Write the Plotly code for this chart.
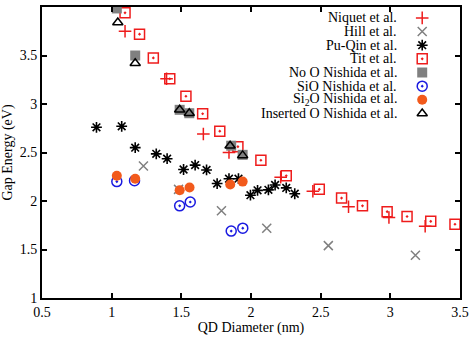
import plotly.graph_objects as go

# Quantum-dot gap energy vs. diameter, several literature data sets
niquet_d = [1.096, 1.394, 1.658, 1.842, 2.213, 2.444, 2.70, 2.99, 3.25]
niquet_e = [3.75, 3.26, 2.69, 2.50, 2.245, 2.10, 1.94, 1.83, 1.74]

hill_d = [1.228, 1.48, 1.788, 2.113, 2.555, 3.18]
hill_e = [2.36, 2.12, 1.90, 1.72, 1.54, 1.44]

puqin_d = [0.891, 1.072, 1.169, 1.32, 1.398, 1.516, 1.599, 1.681, 1.757, 1.842,
           1.91, 1.996, 2.047, 2.125, 2.173, 2.253, 2.314]
puqin_e = [2.76, 2.77, 2.55, 2.486, 2.436, 2.325, 2.37, 2.32, 2.18, 2.23,
           2.23, 2.06, 2.11, 2.115, 2.165, 2.135, 2.075]

tit_d = [1.096, 1.20, 1.299, 1.417, 1.533, 1.653, 1.776, 1.906, 2.071, 2.253,
         2.49, 2.65, 2.80, 2.977, 3.12, 3.29, 3.464]
tit_e = [3.94, 3.72, 3.475, 3.26, 3.08, 2.90, 2.72, 2.56, 2.42, 2.26,
         2.12, 2.03, 1.95, 1.89, 1.84, 1.79, 1.76]

noo_d = [1.037, 1.169, 1.488, 1.557, 1.858, 1.94]
noo_e = [3.985, 3.50, 2.94, 2.905, 2.57, 2.476]

sio_d = [1.037, 1.164, 1.488, 1.564, 1.858, 1.941]
sio_e = [2.20, 2.21, 1.95, 1.99, 1.69, 1.72]

si2o_d = [1.037, 1.169, 1.488, 1.559, 1.851, 1.94]
si2o_e = [2.26, 2.23, 2.11, 2.14, 2.17, 2.20]

ins_d = [1.044, 1.169, 1.488, 1.557, 1.85, 1.94]
ins_e = [3.84, 3.42, 2.94, 2.905, 2.57, 2.47]

x_ticks = [0.5, 1, 1.5, 2, 2.5, 3, 3.5]
x_tick_text = ["0.5", "1", "1.5", "2", "2.5", "3", "3.5"]
y_ticks = [1, 1.5, 2, 2.5, 3, 3.5, 4]
y_tick_text = ["1", "1.5", "2", "2.5", "3", "3.5", "4"]

RED = "#ee1c1c"
GRAY = "#808080"
BLUE = "#1a1ae0"
ORANGE = "#f25a1c"
FONT = "Liberation Serif, Times New Roman, Times, serif"

series = [
    ("Niquet et al.", niquet_d, niquet_e,
     dict(symbol="cross-thin", size=9, line=dict(color=RED, width=1.5), color=RED)),
    ("Hill et al.", hill_d, hill_e,
     dict(symbol="x-thin", size=9, line=dict(color=GRAY, width=1.5), color=GRAY)),
    ("Pu-Qin et al.", puqin_d, puqin_e,
     dict(symbol="asterisk", size=9, line=dict(color="black", width=1.6), color="black")),
    ("Tit et al.", tit_d, tit_e,
     dict(symbol="square-open-dot", size=10, line=dict(color=RED, width=1.5), color=RED)),
    ("No O Nishida et al.", noo_d, noo_e,
     dict(symbol="square", size=10, color=GRAY, line=dict(width=0))),
    ("SiO Nishida et al.", sio_d, sio_e,
     dict(symbol="circle-open-dot", size=10, line=dict(color=BLUE, width=1.5), color=BLUE)),
    ("Si<sub>2</sub>O Nishida et al.", si2o_d, si2o_e,
     dict(symbol="circle", size=10, color=ORANGE, line=dict(width=0))),
    ("Inserted O Nishida et al.", ins_d, ins_e,
     dict(symbol="triangle-up-open", size=9, line=dict(color="black", width=1.5), color="black")),
]

fig = go.Figure()
for name, xd, yd, mk in series:
    fig.add_trace(go.Scatter(x=xd, y=yd, mode="markers", name=name, marker=mk,
                             showlegend=False, hoverinfo="skip"))

# Key in the upper right: right-aligned labels with the symbol after them
row_top = 0.9625
row_step = 0.0469
label_x = 0.852
symbol_x = 0.9096
annotations = []
for i, (name, _, _, mk) in enumerate(series):
    yk = row_top - i * row_step
    fig.add_trace(go.Scatter(x=[symbol_x], y=[yk], xaxis="x2", yaxis="y2",
                             mode="markers", marker=mk, showlegend=False,
                             hoverinfo="skip"))
    annotations.append(dict(x=label_x, y=yk, xref="x2", yref="y2", text=name,
                            showarrow=False, xanchor="right", yanchor="middle",
                            borderpad=0,
                            font=dict(family=FONT, size=14, color="black")))

axis_common = dict(showline=True, linecolor="black", linewidth=2, mirror="ticks",
                   ticks="inside", ticklen=5, tickwidth=2, tickcolor="black",
                   showgrid=False, zeroline=False,
                   tickfont=dict(family=FONT, size=14, color="black"))

fig.update_layout(
    width=474, height=337,
    margin=dict(l=41, r=9, t=5, b=34),
    paper_bgcolor="white", plot_bgcolor="white",
    xaxis=dict(range=[0.5, 3.5], tickvals=x_ticks, ticktext=x_tick_text,
               title=dict(text="QD Diameter (nm)", standoff=2,
                          font=dict(family=FONT, size=14, color="black")),
               **axis_common),
    yaxis=dict(range=[1, 4], tickvals=y_ticks, ticktext=y_tick_text,
               title=dict(text="Gap Energy (eV)", standoff=5,
                          font=dict(family=FONT, size=14, color="black")),
               **axis_common),
    xaxis2=dict(range=[0, 1], overlaying="x", visible=False),
    yaxis2=dict(range=[0, 1], overlaying="y", visible=False),
    annotations=annotations,
    showlegend=False,
)

fig.write_html("out.html")
